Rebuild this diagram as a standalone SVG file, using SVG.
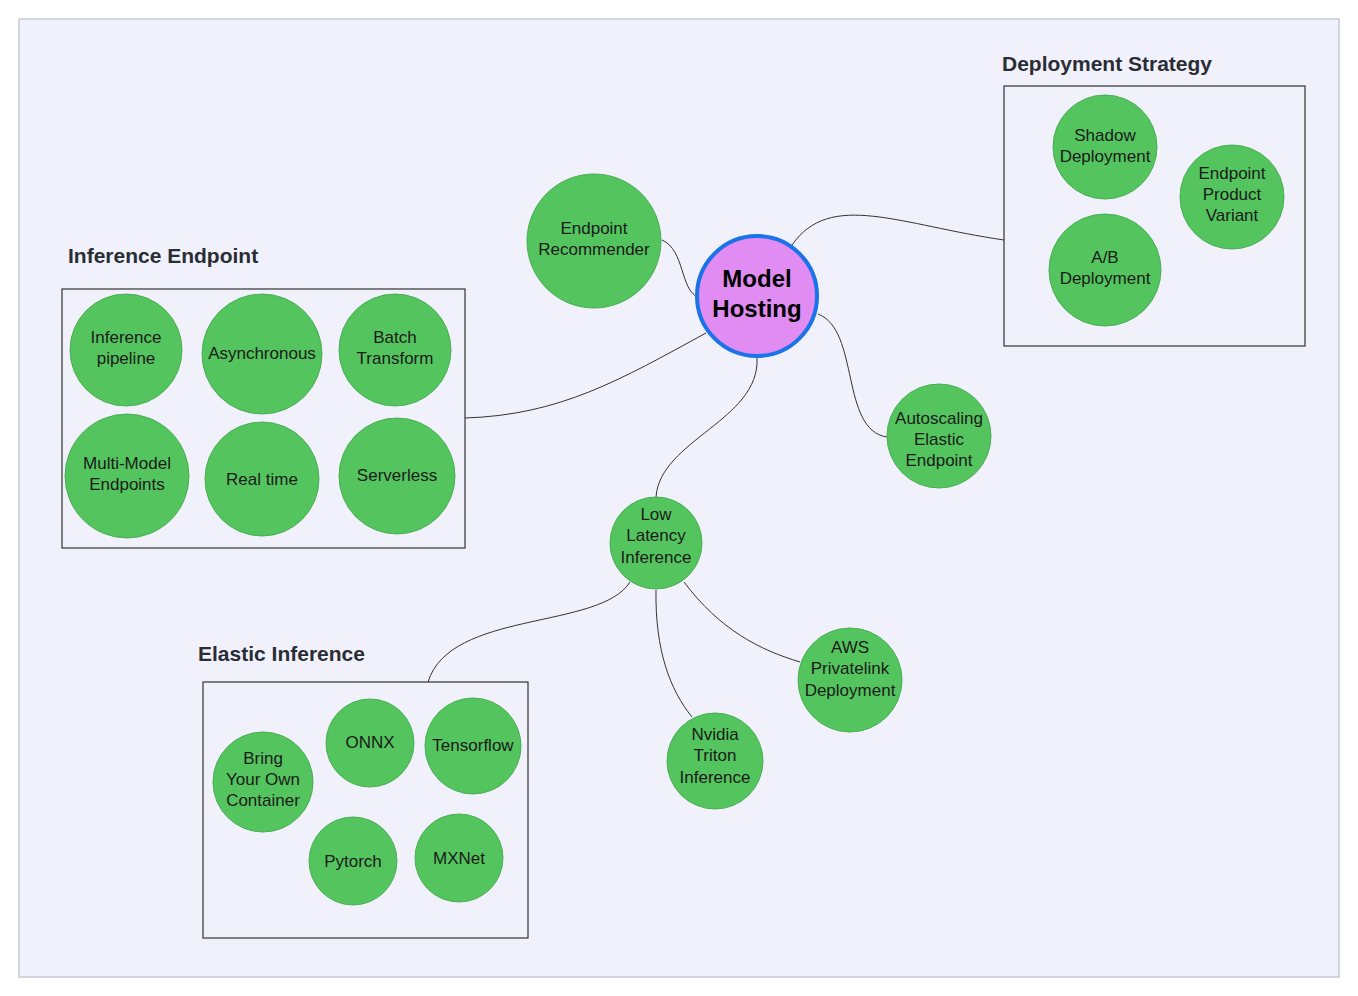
<svg xmlns="http://www.w3.org/2000/svg" width="1358" height="996" viewBox="0 0 1358 996">
<style>
.n{fill:#54c45e;stroke:#4aae53;stroke-width:1}
.t{font-family:"Liberation Sans",Arial,sans-serif;font-size:17px;fill:#1b1b1b;text-anchor:middle}
.h{font-family:"Liberation Sans",Arial,sans-serif;font-size:21px;font-weight:bold;fill:#2a2d33}
.b{fill:none;stroke:#333;stroke-width:1.2}
.c{fill:none;stroke:#333;stroke-width:1}
</style>
<rect x="0" y="0" width="1358" height="996" fill="#fff"/>
<rect x="19" y="19" width="1320" height="958" fill="#f1f1fc" stroke="#c9c9d6" stroke-width="1.5"/>
<g id="connectors">
<path class="c" d="M706 333 C620 380 560 415 465 418"/>
<path class="c" d="M662 240 C685 250 680 290 698 297"/>
<path class="c" d="M792 245 C830 190 900 225 1004 240"/>
<path class="c" d="M818 314 C860 330 840 430 887 437"/>
<path class="c" d="M757 358 C760 420 660 440 656 497"/>
<path class="c" d="M630 582 C600 630 450 610 428 682"/>
<path class="c" d="M656 590 C655 650 670 690 692 717"/>
<path class="c" d="M684 582 C720 630 760 650 800 662"/>
</g>
<g id="inference-endpoint">
<text class="h" x="68" y="263">Inference Endpoint</text>
<rect class="b" x="62" y="289" width="403" height="259"/>
<g id="n-pipeline"><circle class="n" cx="126" cy="350" r="56"/><text class="t" x="126" y="343">Inference</text><text class="t" x="126" y="364">pipeline</text></g>
<g id="n-async"><circle class="n" cx="262" cy="354" r="60"/><text class="t" x="262" y="359">Asynchronous</text></g>
<g id="n-batch"><circle class="n" cx="395" cy="350" r="56"/><text class="t" x="395" y="343">Batch</text><text class="t" x="395" y="364">Transform</text></g>
<g id="n-multi"><circle class="n" cx="127" cy="476" r="62"/><text class="t" x="127" y="469">Multi-Model</text><text class="t" x="127" y="490">Endpoints</text></g>
<g id="n-realtime"><circle class="n" cx="262" cy="479" r="57"/><text class="t" x="262" y="485">Real time</text></g>
<g id="n-serverless"><circle class="n" cx="397" cy="476" r="58"/><text class="t" x="397" y="481">Serverless</text></g>
</g>
<g id="deployment-strategy">
<text class="h" x="1002" y="71">Deployment Strategy</text>
<rect class="b" x="1004" y="86" width="301" height="260"/>
<g id="n-shadow"><circle class="n" cx="1105" cy="147" r="52"/><text class="t" x="1105" y="141">Shadow</text><text class="t" x="1105" y="162">Deployment</text></g>
<g id="n-variant"><circle class="n" cx="1232" cy="197" r="52"/><text class="t" x="1232" y="179">Endpoint</text><text class="t" x="1232" y="200">Product</text><text class="t" x="1232" y="221">Variant</text></g>
<g id="n-ab"><circle class="n" cx="1105" cy="270" r="56"/><text class="t" x="1105" y="263">A/B</text><text class="t" x="1105" y="284">Deployment</text></g>
</g>
<g id="elastic-inference">
<text class="h" x="198" y="661">Elastic Inference</text>
<rect class="b" x="203" y="682" width="325" height="256"/>
<g id="n-byoc"><circle class="n" cx="263" cy="782" r="50"/><text class="t" x="263" y="764">Bring</text><text class="t" x="263" y="785">Your Own</text><text class="t" x="263" y="806">Container</text></g>
<g id="n-onnx"><circle class="n" cx="370" cy="743" r="44"/><text class="t" x="370" y="748">ONNX</text></g>
<g id="n-tf"><circle class="n" cx="473" cy="746" r="48"/><text class="t" x="473" y="751">Tensorflow</text></g>
<g id="n-pytorch"><circle class="n" cx="353" cy="861" r="44"/><text class="t" x="353" y="867">Pytorch</text></g>
<g id="n-mxnet"><circle class="n" cx="459" cy="858" r="44"/><text class="t" x="459" y="864">MXNet</text></g>
</g>
<g id="n-recommender"><circle class="n" cx="594" cy="241" r="67"/><text class="t" x="594" y="234">Endpoint</text><text class="t" x="594" y="255">Recommender</text></g>
<g id="n-model-hosting"><circle cx="757" cy="296" r="60" fill="#e08cf2" stroke="#1a73e8" stroke-width="4"/><text class="t" x="757" y="287" style="font-size:24px;font-weight:bold;fill:#000">Model</text><text class="t" x="757" y="317" style="font-size:24px;font-weight:bold;fill:#000">Hosting</text></g>
<g id="n-autoscaling"><circle class="n" cx="939" cy="436" r="52"/><text class="t" x="939" y="424">Autoscaling</text><text class="t" x="939" y="445">Elastic</text><text class="t" x="939" y="466">Endpoint</text></g>
<g id="n-lowlatency"><circle class="n" cx="656" cy="543" r="46"/><text class="t" x="656" y="520">Low</text><text class="t" x="656" y="541">Latency</text><text class="t" x="656" y="563">Inference</text></g>
<g id="n-aws"><circle class="n" cx="850" cy="680" r="52"/><text class="t" x="850" y="653">AWS</text><text class="t" x="850" y="674">Privatelink</text><text class="t" x="850" y="696">Deployment</text></g>
<g id="n-nvidia"><circle class="n" cx="715" cy="761" r="48"/><text class="t" x="715" y="740">Nvidia</text><text class="t" x="715" y="761">Triton</text><text class="t" x="715" y="783">Inference</text></g>
</svg>
